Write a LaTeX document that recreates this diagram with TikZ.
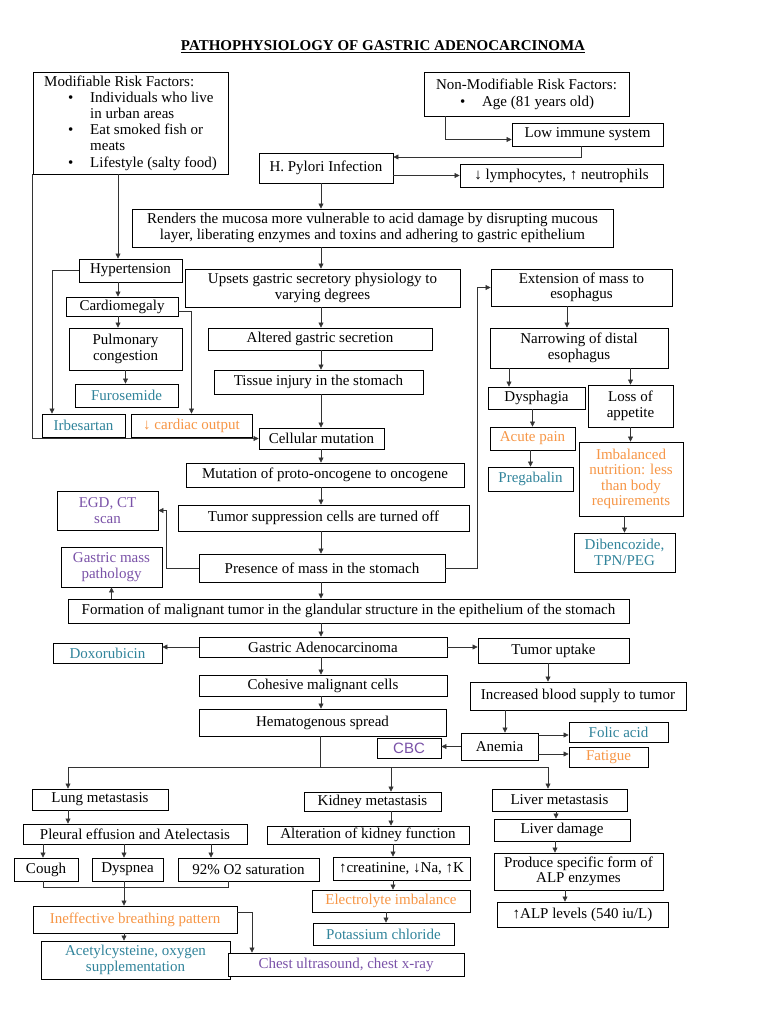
\documentclass[tikz,border=0pt]{standalone}
\usepackage{fontspec}
\setmainfont{Liberation Serif}
\setsansfont{Liberation Sans}
\usetikzlibrary{arrows.meta}
\definecolor{TealC}{HTML}{31849B}
\definecolor{OrgC}{HTML}{F79646}
\definecolor{PurC}{HTML}{7A52A8}
\newcommand\bul{\hspace*{24pt}\makebox[22pt][l]{\textbullet}}
\newcommand\cnt{\hspace*{46pt}}

\begin{document}
\begin{tikzpicture}[x=1pt,y=-1pt,
  box/.style={draw, fill=white, line width=0.9pt, inner xsep=3pt, inner ysep=1.5pt,
    align=center, font=\fontsize{15}{15.5}\selectfont},
  wh/.style 2 args={minimum width=#1, minimum height=#2},
  tealtx/.style={text=TealC},
  orgtx/.style={text=OrgC},
  purtx/.style={text=PurC},
  arr/.style={-{Triangle[length=5pt,width=5pt]}, line width=0.6pt, black!80},
  ln/.style={line width=0.6pt, black!80}]
\fill[white] (0,0) rectangle (768,1024);
\useasboundingbox (0,0) rectangle (768,1024);

\node[font=\fontsize{15}{15}\selectfont\bfseries] (title) at (383,47)
  {\underline{PATHOPHYSIOLOGY OF GASTRIC ADENOCARCINOMA}};

% risk factors
\node[box, wh={195}{102}, align=left, font=\fontsize{15}{16.2}\selectfont] (modif) at (130.5,123)
  {Modifiable Risk Factors:\\
   \bul Individuals who live\\
   \cnt in urban areas\\
   \bul Eat smoked fish or\\
   \cnt meats\\
   \bul Lifestyle (salty food)};
\node[box, wh={205}{44}, align=left, font=\fontsize{15}{17}\selectfont] (nonmod) at (526.5,94)
  {Non-Modifiable Risk Factors:\\
   \bul Age (81 years old)};
\node[box, wh={151}{23}] (lowimm) at (587.5,134.5) {Low immune system};
\node[box, wh={134}{30}] (hpylori) at (326,168) {H. Pylori Infection};
\node[box, wh={203}{23}] (lymph) at (561.5,175.5) {↓ lymphocytes, ↑ neutrophils};
\node[box, wh={481}{38}] (renders) at (372.5,228)
  {Renders the mucosa more vulnerable to acid damage by disrupting mucous\\
   layer, liberating enzymes and toxins and adhering to gastric epithelium};

% left branch
\node[box, wh={103}{23}] (hyper) at (130.5,270.5) {Hypertension};
\node[box, wh={112}{19}] (cardio) at (122,306.5) {Cardiomegaly};
\node[box, wh={113}{42}] (pulm) at (125.5,349) {Pulmonary\\congestion};
\node[box, tealtx, wh={103}{23}] (furo) at (126.5,395.5) {Furosemide};
\node[box, tealtx, wh={83}{23}] (irbe) at (83.5,425.5) {Irbesartan};
\node[box, orgtx, wh={121}{23}] (cardout) at (191.5,425.5) {↓ cardiac output};

% main column
\node[box, wh={275}{38}] (upsets) at (322.5,288)
  {Upsets gastric secretory physiology to\\varying degrees};
\node[box, wh={224}{22}] (altered) at (320,339) {Altered gastric secretion};
\node[box, wh={209}{24}] (tissue) at (318.5,382) {Tissue injury in the stomach};
\node[box, wh={125}{21}] (cellmut) at (321.5,438.5) {Cellular mutation};
\node[box, wh={278}{24}] (mutonc) at (325,475) {Mutation of proto-oncogene to oncogene};
\node[box, wh={291}{26}] (tumsup) at (323.5,518) {Tumor suppression cells are turned off};
\node[box, wh={246}{28}] (presence) at (322,568) {Presence of mass in the stomach};
\node[box, purtx, wh={101}{39}] (egd) at (107.5,510.5) {EGD, CT\\scan};
\node[box, purtx, wh={101}{40}] (gmass) at (111.5,567) {Gastric mass\\pathology};
\node[box, wh={561}{24}] (formation) at (348.5,611)
  {Formation of malignant tumor in the glandular structure in the epithelium of the stomach};

% esophagus branch
\node[box, wh={181}{37}] (extension) at (581.5,287.5) {Extension of mass to\\esophagus};
\node[box, wh={178}{40}] (narrow) at (579,348) {Narrowing of distal\\esophagus};
\node[box, wh={97}{22}] (dysph) at (536.5,398) {Dysphagia};
\node[box, wh={85}{42}] (loss) at (630.5,406) {Loss of\\appetite};
\node[box, orgtx, wh={85}{23}] (acute) at (532.5,438.5) {Acute pain};
\node[box, tealtx, wh={85}{24}] (pregab) at (530.5,479) {Pregabalin};
\node[box, orgtx, wh={104}{74}] (imbal) at (631,479)
  {Imbalanced\\nutrition: less\\than body\\requirements};
\node[box, tealtx, wh={101}{39}] (dibenc) at (624.5,552.5) {Dibencozide,\\TPN/PEG};

% adenocarcinoma
\node[box, wh={248}{20}] (gadeno) at (323,647) {Gastric Adenocarcinoma};
\node[box, tealtx, wh={109}{20}] (doxo) at (107.5,653) {Doxorubicin};
\node[box, wh={151}{25}] (tumupt) at (553.5,650.5) {Tumor uptake};
\node[box, wh={248}{21}] (cohesive) at (323,685.5) {Cohesive malignant cells};
\node[box, wh={216}{28}] (incblood) at (578,696) {Increased blood supply to tumor};
\node[box, wh={247}{27}] (hemat) at (322.5,722.5) {Hematogenous spread};
\node[box, wh={77}{27}] (anemia) at (499.5,746.5) {Anemia};
\node[box, purtx, wh={64}{20}, font=\fontsize{15}{15.5}\sffamily] (cbc) at (409,748) {CBC};
\node[box, tealtx, wh={99}{20}] (folic) at (618.5,732) {Folic acid};
\node[box, orgtx, wh={79}{20}] (fatigue) at (608.5,757) {Fatigue};

% metastasis
\node[box, wh={136}{21}] (lung) at (100,799.5) {Lung metastasis};
\node[box, wh={137}{19}] (kidney) at (372.5,801.5) {Kidney metastasis};
\node[box, wh={135}{22}] (liver) at (559.5,800) {Liver metastasis};
\node[box, wh={224}{20}] (pleural) at (135,834) {Pleural effusion and Atelectasis};
\node[box, wh={202}{18}] (alter) at (368,835) {Alteration of kidney function};
\node[box, wh={136}{22}] (liverdmg) at (562,830) {Liver damage};
\node[box, wh={64}{23}] (cough) at (46,869.5) {Cough};
\node[box, wh={71}{23}] (dyspnea) at (127.5,869.5) {Dyspnea};
\node[box, wh={141}{23}] (o2) at (248.5,869.5) {92\% O2 saturation};
\node[box, wh={137}{23}] (creat) at (401.5,868.5) {↑creatinine, ↓Na, ↑K};
\node[box, wh={169}{37}] (produce) at (578.5,871.5) {Produce specific form of\\ALP enzymes};
\node[box, orgtx, wh={158}{22}] (electro) at (391,901) {Electrolyte imbalance};
\node[box, wh={171}{25}] (alp) at (582.5,914.5) {↑ALP levels (540 iu/L)};
\node[box, orgtx, wh={204}{27}] (ineff) at (135,919.5) {Ineffective breathing pattern};
\node[box, tealtx, wh={141}{22}] (potass) at (383.5,934) {Potassium chloride};
\node[box, tealtx, wh={189}{38}] (acetyl) at (135.5,960) {Acetylcysteine, oxygen\\supplementation};
\node[box, purtx, wh={236}{23}] (chest) at (346,964.5) {Chest ultrasound, chest x-ray};

\coordinate (spine) at (321,0);
\coordinate (lcol) at (118,0);
\coordinate (bus) at (320,767);
\coordinate (join) at (124,887);

% top connectors
\draw[arr] ([xshift=-81.5]nonmod.south) |- ([yshift=-5]lowimm.west);
\draw[arr] ([xshift=-6.5]lowimm.south) |- ([yshift=11]hpylori.east);
\draw[arr] (hpylori.east |- lymph.west) -- (lymph.west);
\draw[arr] (hpylori.south -| spine) -- (renders.north -| spine);
\draw[arr] (renders.south -| spine) -- (upsets.north -| spine);
\draw[arr] (upsets.south -| spine) -- (altered.north -| spine);
\draw[arr] (altered.south -| spine) -- (tissue.north -| spine);
\draw[arr] (tissue.south -| spine) -- (cellmut.north -| spine);
\draw[arr] (cellmut.south -| spine) -- (mutonc.north -| spine);
\draw[arr] (mutonc.south -| spine) -- (tumsup.north -| spine);
\draw[arr] (tumsup.south -| spine) -- (presence.north -| spine);
\draw[arr] (presence.south -| spine) -- (formation.north -| spine);
\draw[arr] (formation.south -| spine) -- (gadeno.north -| spine);
\draw[arr] (gadeno.south -| spine) -- (cohesive.north -| spine);
\draw[arr] (cohesive.south -| spine) -- (hemat.north -| spine);

% left branch connectors
\draw[arr] (modif.south -| lcol) -- (hyper.north -| lcol);
\draw[arr] (hyper.south -| lcol) -- (cardio.north -| lcol);
\draw[arr] (cardio.south -| lcol) -- (pulm.north -| lcol);
\draw[arr] (pulm.south) -- (pulm.south |- furo.north);
\draw[arr] (hyper.west) -| ([xshift=-31.5]irbe.north);
\draw[arr] ([yshift=-4.5]cardio.east) -| (cardout.north);
\draw[arr] (modif.south west) |- (cellmut.west);

% presence of mass
\draw[arr] (presence.west) -- ++(-32,0) |- (egd.east);
\draw[arr] (presence.east) -- ++(32,0) |- (extension.west);
\draw[arr] (formation.north -| gmass.south) -- (gmass.south);

% esophagus
\draw[arr] ([xshift=-14.5]extension.south) -- ([xshift=-14.5]extension.south |- narrow.north);
\draw[arr] ([xshift=-70]narrow.south) -- ([xshift=-70]narrow.south |- dysph.north);
\draw[arr] (loss.north |- narrow.south) -- (loss.north);
\draw[arr] (acute.north |- dysph.south) -- (acute.north);
\draw[arr] (pregab.north |- acute.south) -- (pregab.north);
\draw[arr] (loss.south) -- (loss.south |- imbal.north);
\draw[arr] (dibenc.north |- imbal.south) -- (dibenc.north);

% adenocarcinoma
\draw[arr] (gadeno.west) -- (gadeno.west -| doxo.east);
\draw[arr] (gadeno.east) -- (gadeno.east -| tumupt.west);
\draw[arr] ([xshift=-5.5]tumupt.south) -- ([xshift=-5.5]tumupt.south |- incblood.north);
\draw[arr] ([xshift=5.5]anemia.north |- incblood.south) -- ([xshift=5.5]anemia.north);
\draw[arr] (anemia.west) -- (anemia.west -| cbc.east);
\draw[arr] ([yshift=11.5]anemia.east) -- ([yshift=11.5]anemia.east -| folic.west);
\draw[arr] ([yshift=-7.5]anemia.east) -- ([yshift=-7.5]anemia.east -| fatigue.west);

% spread
\draw[ln] (hemat.south -| bus) -- (bus);
\draw[arr] (bus) -| ([xshift=-32]lung.north);
\draw[arr] (bus) -| ([xshift=18.5]kidney.north);
\draw[arr] (bus) -| ([xshift=-11.5]liver.north);

% lung
\draw[arr] ([xshift=-32]lung.south) -- ([xshift=-32]lung.south |- pleural.north);
\draw[arr] ([xshift=-3]cough.north |- pleural.south) -- ([xshift=-3]cough.north);
\draw[arr] ([xshift=-3.5]dyspnea.north |- pleural.south) -- ([xshift=-3.5]dyspnea.north);
\draw[arr] ([xshift=-37.5]o2.north |- pleural.south) -- ([xshift=-37.5]o2.north);
\draw[ln] ([xshift=-3]cough.south) |- (join) -| ([xshift=-20.5]o2.south);
\draw[ln] ([xshift=-3.5]dyspnea.south) -- (join);
\draw[arr] (join) -- (join |- ineff.north);
\draw[arr] ([xshift=-11]ineff.south) -- ([xshift=-11]ineff.south |- acetyl.north);
\draw[arr] ([yshift=7.5]ineff.east) -| ([xshift=-94]chest.north);

% kidney
\draw[arr] ([xshift=18.5]kidney.south) -- ([xshift=18.5]kidney.south |- alter.north);
\draw[arr] ([xshift=-8.5]creat.north |- alter.south) -- ([xshift=-8.5]creat.north);
\draw[arr] ([xshift=2]electro.north |- creat.south) -- ([xshift=2]electro.north);
\draw[arr] ([xshift=2.5]potass.north |- electro.south) -- ([xshift=2.5]potass.north);

% liver
\draw[arr] ([xshift=-3.5]liver.south) -- ([xshift=-3.5]liver.south |- liverdmg.north);
\draw[arr] ([xshift=-7]liverdmg.south) -- ([xshift=-7]liverdmg.south |- produce.north);
\draw[arr] ([xshift=-13.5]produce.south) -- ([xshift=-13.5]produce.south |- alp.north);
\end{tikzpicture}
\end{document}
